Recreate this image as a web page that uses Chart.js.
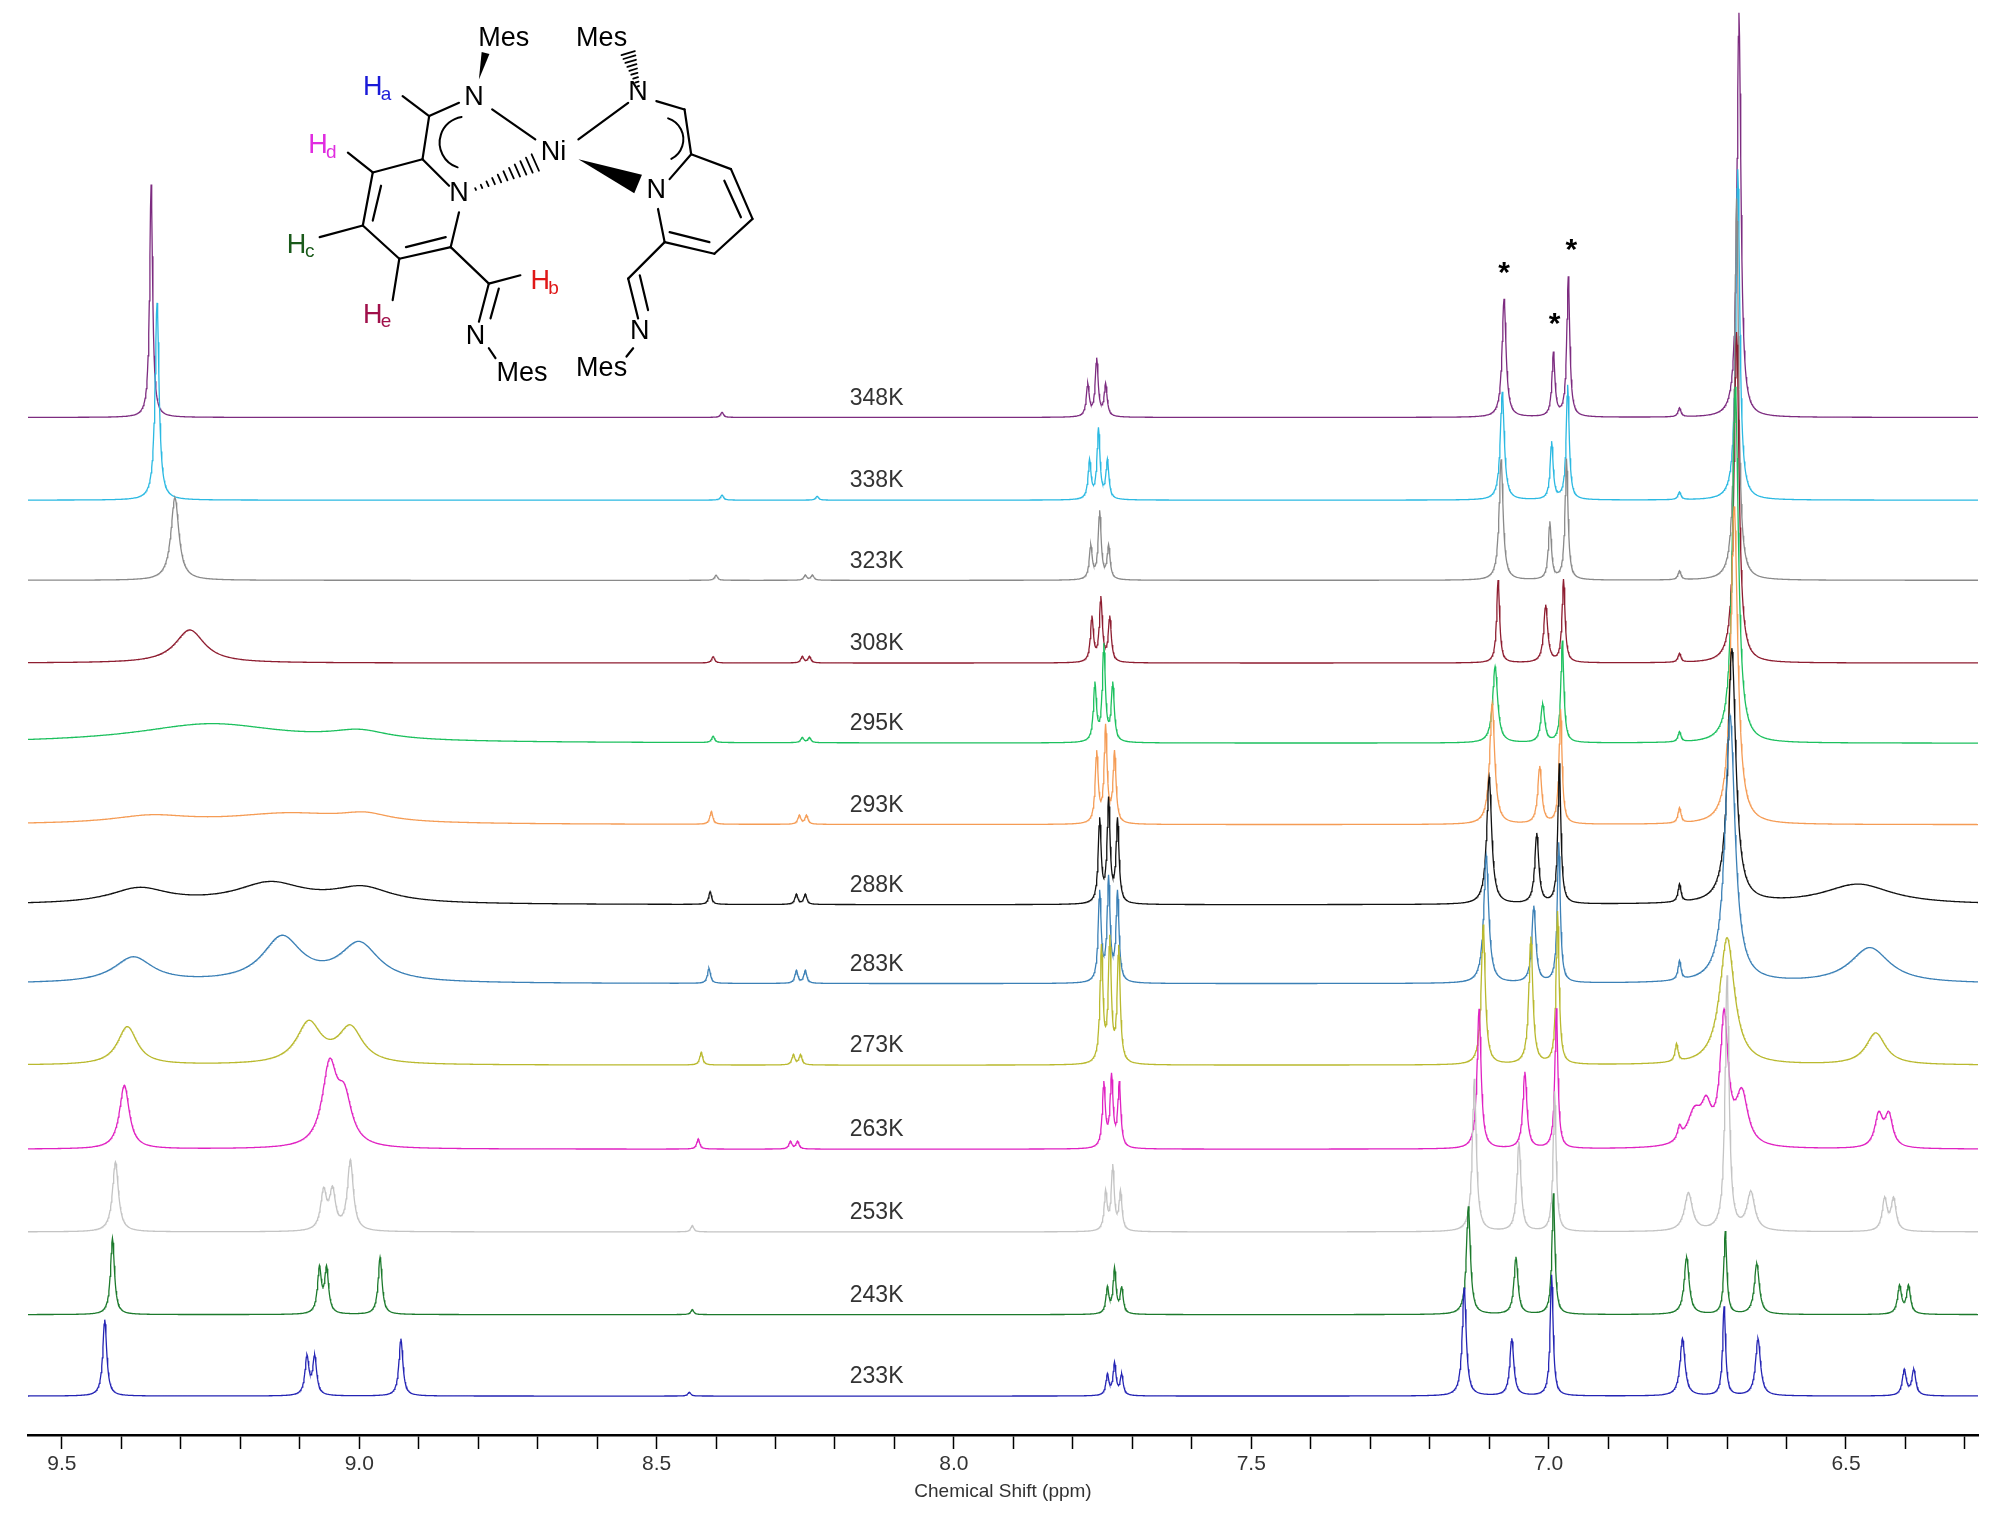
<!DOCTYPE html>
<html>
<head>
<meta charset="utf-8">
<script src="https://cdn.jsdelivr.net/npm/chart.js@4.4.1/dist/chart.umd.min.js"></script>
<style>
  html, body { margin: 0; padding: 0; background: #fff; }
  #wrap { width: 1992px; height: 1513px; }
</style>
</head>
<body>
<div id="wrap"><canvas id="nmr"></canvas></div>
<script>
// temperatures, trace colours and baselines (in picture units, from the top)
const temps = ['348K', '338K', '323K', '308K', '295K', '293K', '288K', '283K', '273K', '263K', '253K', '243K', '233K'];
const colors = ['#7d2c80', '#2bb9e2', '#8a8a8a', '#8e1d30', '#1cc05e', '#f59c55', '#111111', '#3b80b6', '#b9b92e', '#e022c2', '#c4c4c4', '#1c7a2c', '#2424b4'];
const baselines = [328, 393, 456, 521, 584, 648, 711, 773, 837, 903, 968, 1033, 1097];

// peak lists per trace: [ppm, height, half width (ppm)]
const peaks348 = [[9.350, 183, 0.003], [8.39, 4, 0.003], [7.775, 25, 0.003], [7.760, 45, 0.003], [7.745, 25, 0.003], [7.075, 93, 0.004], [6.992, 50, 0.003], [6.967, 110, 0.003], [6.78, 7, 0.003], [6.680, 318, 0.004]];
const peaks338 = [[9.340, 155, 0.004], [8.39, 4, 0.003], [8.23, 3, 0.003], [7.772, 30, 0.003], [7.757, 55, 0.003], [7.742, 30, 0.003], [7.078, 85, 0.004], [6.995, 45, 0.003], [6.968, 90, 0.003], [6.78, 6, 0.003], [6.682, 260, 0.004]];
const peaks323 = [[9.310, 65, 0.008], [8.40, 4, 0.003], [8.250, 4, 0.003], [8.238, 4, 0.003], [7.770, 26, 0.003], [7.755, 53, 0.003], [7.740, 26, 0.003], [7.080, 95, 0.004], [6.998, 45, 0.003], [6.970, 95, 0.003], [6.78, 7, 0.003], [6.684, 300, 0.004]];
const peaks308 = [[9.285, 26, 0.03], [8.405, 5, 0.003], [8.255, 5, 0.003], [8.243, 5, 0.003], [7.768, 35, 0.003], [7.753, 50, 0.003], [7.738, 35, 0.003], [7.085, 65, 0.003], [7.005, 45, 0.004], [6.975, 65, 0.003], [6.78, 7, 0.003], [6.684, 260, 0.005]];
const peaks295 = [[9.25, 15, 0.15], [9.0, 7, 0.06], [8.405, 5, 0.003], [8.255, 4, 0.003], [8.243, 4, 0.003], [7.763, 45, 0.003], [7.748, 75, 0.003], [7.733, 45, 0.003], [7.090, 60, 0.005], [7.010, 30, 0.004], [6.977, 80, 0.003], [6.78, 8, 0.003], [6.686, 280, 0.006]];
const peaks293 = [[9.35, 6, 0.08], [9.12, 8, 0.12], [8.99, 6, 0.05], [8.408, 10, 0.003], [8.26, 7, 0.003], [8.248, 7, 0.003], [7.760, 55, 0.003], [7.745, 75, 0.003], [7.730, 55, 0.003], [7.095, 95, 0.005], [7.015, 45, 0.004], [6.980, 90, 0.003], [6.78, 12, 0.003], [6.688, 250, 0.007]];
const peaks288 = [[9.37, 12, 0.06], [9.15, 16, 0.07], [8.995, 12, 0.06], [8.41, 10, 0.003], [8.265, 8, 0.003], [8.250, 8, 0.003], [7.755, 65, 0.003], [7.740, 80, 0.003], [7.725, 65, 0.003], [7.100, 100, 0.005], [7.020, 55, 0.004], [6.982, 110, 0.003], [6.78, 14, 0.003], [6.692, 200, 0.008], [6.48, 16, 0.07]];
const peaks283 = [[9.38, 20, 0.04], [9.13, 35, 0.04], [9.00, 30, 0.04], [8.412, 12, 0.003], [8.265, 10, 0.003], [8.250, 10, 0.003], [7.755, 70, 0.003], [7.740, 80, 0.003], [7.725, 70, 0.003], [7.105, 100, 0.005], [7.025, 60, 0.004], [6.983, 110, 0.003], [6.78, 15, 0.003], [6.695, 210, 0.01], [6.46, 28, 0.04]];
const peaks273 = [[9.39, 30, 0.02], [9.085, 32, 0.025], [9.015, 28, 0.025], [8.425, 10, 0.003], [8.27, 8, 0.003], [8.258, 8, 0.003], [7.752, 90, 0.003], [7.738, 95, 0.003], [7.723, 90, 0.003], [7.110, 110, 0.004], [7.030, 100, 0.004], [6.985, 120, 0.003], [6.785, 14, 0.003], [6.700, 100, 0.015], [6.45, 25, 0.02]];
const peaks263 = [[9.395, 50, 0.01], [9.05, 62, 0.015], [9.025, 35, 0.015], [8.43, 8, 0.003], [8.275, 6, 0.003], [8.263, 6, 0.003], [7.748, 50, 0.003], [7.735, 55, 0.003], [7.722, 50, 0.003], [7.117, 110, 0.004], [7.040, 60, 0.004], [6.987, 110, 0.003], [6.78, 10, 0.004], [6.755, 25, 0.015], [6.735, 25, 0.01], [6.705, 100, 0.008], [6.675, 40, 0.012], [6.445, 25, 0.008], [6.428, 25, 0.008]];
const peaks253 = [[9.41, 55, 0.006], [9.06, 30, 0.006], [9.045, 30, 0.006], [9.015, 55, 0.006], [8.44, 5, 0.003], [7.745, 30, 0.003], [7.733, 50, 0.003], [7.72, 30, 0.003], [7.125, 120, 0.004], [7.050, 70, 0.004], [6.990, 110, 0.003], [6.765, 30, 0.008], [6.700, 200, 0.004], [6.66, 30, 0.008], [6.435, 25, 0.005], [6.42, 25, 0.005]];
const peaks243 = [[9.415, 60, 0.004], [9.067, 35, 0.004], [9.055, 35, 0.004], [8.965, 45, 0.004], [8.44, 4, 0.003], [7.742, 20, 0.003], [7.730, 35, 0.003], [7.718, 20, 0.003], [7.135, 85, 0.004], [7.055, 45, 0.004], [6.992, 95, 0.003], [6.768, 45, 0.005], [6.703, 65, 0.003], [6.650, 40, 0.005], [6.41, 22, 0.004], [6.395, 22, 0.004]];
const peaks233 = [[9.428, 60, 0.004], [9.088, 30, 0.004], [9.075, 30, 0.004], [8.930, 45, 0.004], [8.445, 3, 0.003], [7.742, 16, 0.003], [7.730, 25, 0.003], [7.718, 16, 0.003], [7.142, 85, 0.004], [7.062, 45, 0.004], [6.995, 95, 0.003], [6.775, 45, 0.005], [6.705, 70, 0.003], [6.648, 45, 0.005], [6.402, 20, 0.004], [6.386, 20, 0.004]];
const peakLists = [peaks348, peaks338, peaks323, peaks308, peaks295, peaks293, peaks288, peaks283, peaks273, peaks263, peaks253, peaks243, peaks233];

// starred signals: [ppm, picture y]
const stars = [[7.075, 215], [6.99, 255], [6.962, 197]];

const xMin = 6.278, xMax = 9.557;
const yTop = 1127.6;   // picture height of the plot area

const spectrum = (list, base) => {
    const pts = [];
    for (let i = 0; i <= 3279; i++) {
        const x = xMax - i * 0.001;
        let y = 0;
        list.forEach(([p, h, w]) => { y += h * w * w / ((x - p) * (x - p) + w * w); });
        pts.push({ x: x, y: yTop - base + y });
    }
    return pts;
};

const datasets = temps.map((t, i) => ({
    label: t,
    data: spectrum(peakLists[i], baselines[i]),
    borderColor: colors[i],
    borderWidth: 1.3,
    pointRadius: 0,
    fill: false,
    order: -i
}));

// temperature labels, asterisks and the structure
const extras = {
    id: 'extras',
    afterDatasetsDraw(chart) {
        const ctx = chart.ctx;
        const xs = chart.scales.x, ys = chart.scales.y;
        ctx.save();
        ctx.fillStyle = '#333';
        ctx.font = '23px "Liberation Sans", Arial';
        ctx.textAlign = 'center';
        ctx.textBaseline = 'bottom';
        temps.forEach((t, i) => {
            ctx.fillText(t, xs.getPixelForValue(8.13), ys.getPixelForValue(yTop - baselines[i] + 6));
        });
        ctx.fillStyle = '#000';
        ctx.font = 'bold 30px "Liberation Sans", Arial';
        ctx.textBaseline = 'middle';
        stars.forEach(([p, y]) => ctx.fillText('*', xs.getPixelForValue(p), ys.getPixelForValue(yTop - y)));
        drawStructure(ctx);
        ctx.restore();
    }
};

function P(zx, zy) { return [260 + zx / 3.015, zy / 3.015]; }

function drawStructure(ctx) {
    ctx.strokeStyle = '#000';
    ctx.fillStyle = '#000';
    ctx.lineWidth = 2.2;
    ctx.lineCap = 'round';
    const line = (a, b) => { const p = P(...a), q = P(...b); ctx.beginPath(); ctx.moveTo(p[0], p[1]); ctx.lineTo(q[0], q[1]); ctx.stroke(); };
    const hash = (a, b, n, wmax) => {
        const p = P(...a), q = P(...b);
        const dx = q[0] - p[0], dy = q[1] - p[1], L = Math.hypot(dx, dy);
        const nx = -dy / L, ny = dx / L;
        ctx.lineWidth = 1.8;
        for (let k = 0; k <= n; k++) {
            const f = k / n, cx = p[0] + dx * f, cy = p[1] + dy * f, w = 1 + wmax * f;
            ctx.beginPath(); ctx.moveTo(cx - nx * w, cy - ny * w); ctx.lineTo(cx + nx * w, cy + ny * w); ctx.stroke();
        }
        ctx.lineWidth = 2.2;
    };
    const wedge = (a, b, w) => {
        const p = P(...a), q = P(...b);
        const dx = q[0] - p[0], dy = q[1] - p[1], L = Math.hypot(dx, dy);
        const nx = -dy / L * w, ny = dx / L * w;
        ctx.beginPath(); ctx.moveTo(p[0], p[1]); ctx.lineTo(q[0] + nx, q[1] + ny); ctx.lineTo(q[0] - nx, q[1] - ny); ctx.closePath(); ctx.fill();
    };
    // left ligand
    wedge([660, 240], [680, 160], 4);
    line([600, 310], [510, 350]);
    line([510, 350], [430, 290]);
    line([510, 350], [490, 480]);
    line([490, 480], [570, 560]);
    line([490, 480], [340, 520]);
    line([340, 520], [265, 460]);
    line([340, 520], [310, 680]);
    line([365, 560], [340, 665]);
    line([310, 680], [180, 715]);
    line([310, 680], [420, 780]);
    line([420, 780], [400, 905]);
    line([420, 780], [575, 745]);
    line([440, 745], [560, 715]);
    line([575, 745], [600, 640]);
    line([575, 745], [690, 855]);
    line([690, 855], [785, 830]);
    line([690, 855], [660, 970]);
    line([720, 870], [695, 960]);
    line([690, 1050], [710, 1080]);
    line([700, 330], [830, 420]);
    hash([650, 570], [830, 490], 10, 8);
    // right ligand
    hash([1140, 260], [1110, 160], 8, 6);
    line([1195, 305], [1280, 330]);
    line([1280, 330], [1300, 465]);
    line([1110, 310], [960, 420]);
    wedge([960, 480], [1140, 555], 10);
    line([1300, 465], [1235, 540]);
    line([1300, 465], [1420, 510]);
    line([1420, 510], [1485, 660]);
    line([1400, 545], [1450, 655]);
    line([1485, 660], [1370, 765]);
    line([1370, 765], [1220, 730]);
    line([1355, 730], [1235, 700]);
    line([1220, 730], [1200, 630]);
    line([1220, 730], [1110, 840]);
    line([1110, 840], [1140, 960]);
    line([1145, 830], [1170, 935]);
    line([1125, 1050], [1105, 1075]);
    // delocalisation arcs
    ctx.lineWidth = 2;
    let c = P(620, 430);
    ctx.beginPath(); ctx.arc(c[0], c[1], 26, 0.6 * Math.PI, 1.45 * Math.PI); ctx.stroke();
    c = P(1210, 420);
    ctx.beginPath(); ctx.arc(c[0], c[1], 22, 1.6 * Math.PI, 2.35 * Math.PI); ctx.stroke();

    // atom labels
    ctx.textAlign = 'center';
    ctx.textBaseline = 'middle';
    const txt = (s, zx, zy, col, size) => { const p = P(zx, zy); ctx.fillStyle = col || '#000'; ctx.font = (size || 27) + 'px "Liberation Sans", Arial'; ctx.fillText(s, p[0], p[1]); };
    txt('Mes', 735, 115); txt('N', 645, 295); txt('Ni', 885, 460); txt('N', 600, 585);
    txt('N', 650, 1015); txt('Mes', 790, 1125);
    txt('Mes', 1030, 115); txt('N', 1140, 280); txt('N', 1195, 575); txt('N', 1145, 1000); txt('Mes', 1030, 1110);
    const hl = (sub, zx, zy, col) => { txt('H', zx, zy, col); txt(sub, zx + 40, zy + 20, col, 19); };
    hl('a', 340, 265, '#1a1ad8');
    hl('d', 175, 440, '#e02ce0');
    hl('c', 110, 740, '#1a5a1a');
    hl('e', 340, 950, '#a0104a');
    hl('b', 845, 850, '#e01818');
}

new Chart(document.getElementById('nmr'), {
    type: 'line',
    data: { datasets: datasets },
    plugins: [extras],
    options: {
        responsive: true,
        maintainAspectRatio: false,
        animation: false,
        parsing: false,
        normalized: true,
        layout: { padding: { left: 28, right: 14, top: 0, bottom: 10 } },
        plugins: { legend: { display: false }, tooltip: { enabled: false } },
        scales: {
            x: {
                type: 'linear',
                reverse: true,
                min: xMin,
                max: xMax,
                afterBuildTicks: (axis) => {
                    const t = [];
                    for (let v = 63; v <= 95; v++) t.push({ value: v / 10 });
                    axis.ticks = t;
                },
                ticks: {
                    autoSkip: false,
                    maxRotation: 0,
                    color: '#333',
                    font: { size: 21, family: '"Liberation Sans", Arial' },
                    callback: (v) => Math.abs(v * 2 - Math.round(v * 2)) < 1e-6 ? v.toFixed(1) : ''
                },
                grid: { drawOnChartArea: false, color: '#000', tickLength: 14, tickWidth: 1.5 },
                border: { color: '#000', width: 2.5 },
                title: { display: true, text: 'Chemical Shift (ppm)', color: '#333', font: { size: 19, family: '"Liberation Sans", Arial' }, padding: { top: 0, bottom: 0 } }
            },
            y: { display: false, min: 0, max: yTop }
        }
    }
});
</script>
</body>
</html>
